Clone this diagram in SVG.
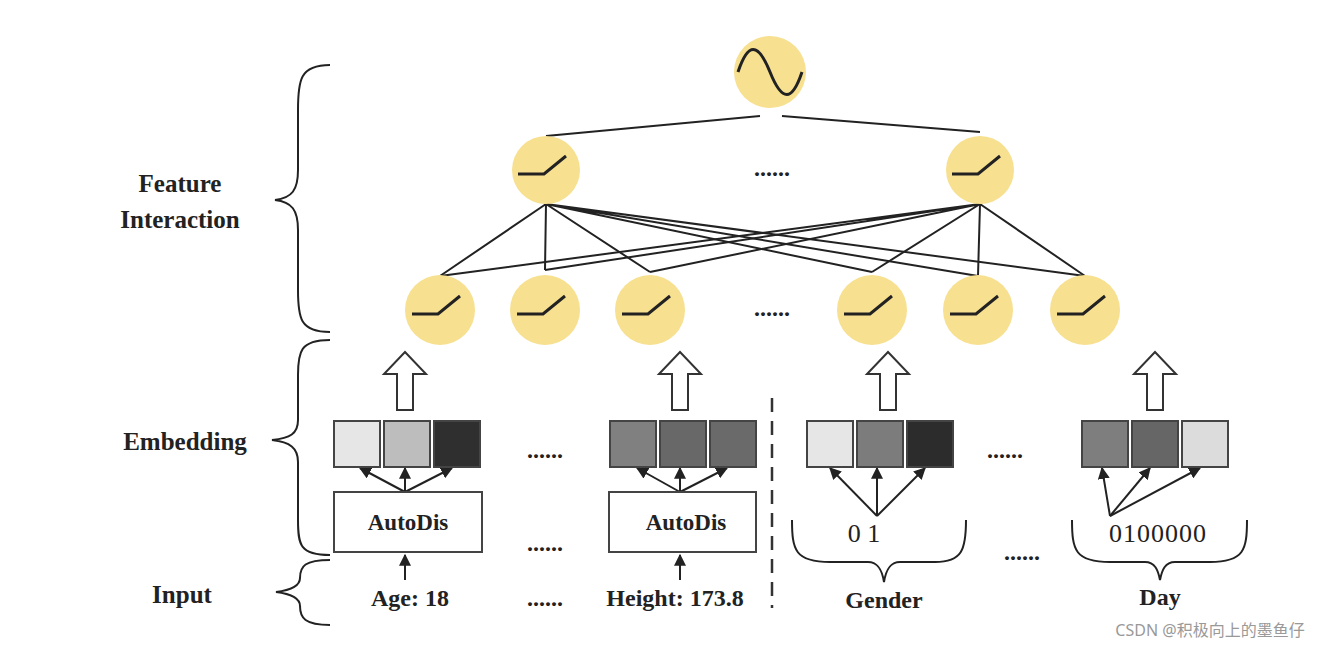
<svg xmlns="http://www.w3.org/2000/svg" width="1342" height="646" viewBox="0 0 1342 646">
<style>
.n{fill:#f7e08f;stroke:none}
.ic{fill:none;stroke:#222;stroke-width:3}
.ln{stroke:#222;stroke-width:2;fill:none}
.t{font-family:"Liberation Serif",serif;font-weight:bold;fill:#222}
.cell{stroke:#444;stroke-width:2}
.box{fill:#fff;stroke:#444;stroke-width:2}
.ha{fill:#fff;stroke:#333;stroke-width:2}
.dots{font-family:"Liberation Serif",serif;font-weight:bold;font-size:24px;fill:#222;text-anchor:middle}
</style>
<defs>
<marker id="ah" viewBox="0 0 10 10" refX="9" refY="5" markerWidth="6" markerHeight="6" orient="auto"><path d="M0,0L10,5L0,10z" fill="#222"/></marker>
<g id="relu"><path class="ic" d="M-28,4H-2L20,-14"/></g>
<path id="hol" d="M-8,0V-36H-21L0,-58L21,-36H8V0Z"/>
</defs>
<g id="connectors">
<path class="ln" d="M546,136L760,116M980,132L782,116"/>
<path class="ln" d="M546,204L440,276M546,204L545,270M546,204L650,272M546,204L872,272M546,204L978,276M546,204L1085,276"/>
<path class="ln" d="M980,204L440,276M980,204L545,270M980,204L650,272M980,204L872,272M980,204L978,276M980,204L1085,276"/>
<g class="ln" stroke-width="1.6" marker-end="url(#ah)">
<line x1="405" y1="492" x2="360" y2="468"/><line x1="405" y1="492" x2="405" y2="468"/><line x1="405" y1="492" x2="452" y2="468"/>
<line x1="680" y1="492" x2="637" y2="468"/><line x1="680" y1="492" x2="680" y2="468"/><line x1="680" y1="492" x2="727" y2="468"/>
<line x1="877" y1="516" x2="830" y2="468"/><line x1="877" y1="516" x2="877" y2="468"/><line x1="877" y1="516" x2="925" y2="468"/>
<line x1="1110" y1="516" x2="1102" y2="468"/><line x1="1110" y1="516" x2="1150" y2="468"/><line x1="1110" y1="516" x2="1200" y2="468"/>
<line x1="405" y1="580" x2="405" y2="555"/><line x1="680" y1="580" x2="680" y2="555"/>
</g>
<line x1="772" y1="398" x2="772" y2="608" stroke="#333" stroke-width="2.5" stroke-dasharray="14,9"/>
</g>
<g id="out"><circle class="n" cx="770" cy="72" r="36"/><path class="ic" d="M738,72C748,42 758,42 770,72S792,102 802,72"/></g>
<g id="h2a"><circle class="n" cx="546" cy="170" r="34"/><use href="#relu" x="546" y="170"/></g>
<g id="h2b"><circle class="n" cx="980" cy="170" r="34"/><use href="#relu" x="980" y="170"/></g>
<g id="h1">
<circle class="n" cx="440" cy="310" r="35"/><use href="#relu" x="440" y="310"/>
<circle class="n" cx="545" cy="310" r="35"/><use href="#relu" x="545" y="310"/>
<circle class="n" cx="650" cy="310" r="35"/><use href="#relu" x="650" y="310"/>
<circle class="n" cx="872" cy="310" r="35"/><use href="#relu" x="872" y="310"/>
<circle class="n" cx="978" cy="310" r="35"/><use href="#relu" x="978" y="310"/>
<circle class="n" cx="1085" cy="310" r="35"/><use href="#relu" x="1085" y="310"/>
</g>
<text class="dots" x="772" y="176">......</text>
<text class="dots" x="772" y="316">......</text>
<g id="arrows">
<use href="#hol" class="ha" x="405" y="410"/><use href="#hol" class="ha" x="680" y="410"/>
<use href="#hol" class="ha" x="888" y="410"/><use href="#hol" class="ha" x="1155" y="410"/>
</g>
<g id="emb">
<rect class="cell" x="334" y="421" width="46" height="46" fill="#e6e6e6"/><rect class="cell" x="384" y="421" width="46" height="46" fill="#bdbdbd"/><rect class="cell" x="434" y="421" width="46" height="46" fill="#2f2f2f"/>
<rect class="cell" x="610" y="421" width="46" height="46" fill="#808080"/><rect class="cell" x="660" y="421" width="46" height="46" fill="#686868"/><rect class="cell" x="710" y="421" width="46" height="46" fill="#6a6a6a"/>
<rect class="cell" x="807" y="421" width="46" height="46" fill="#e6e6e6"/><rect class="cell" x="857" y="421" width="46" height="46" fill="#7c7c7c"/><rect class="cell" x="907" y="421" width="46" height="46" fill="#2c2c2c"/>
<rect class="cell" x="1082" y="421" width="46" height="46" fill="#7e7e7e"/><rect class="cell" x="1132" y="421" width="46" height="46" fill="#666"/><rect class="cell" x="1182" y="421" width="46" height="46" fill="#dcdcdc"/>
<text class="dots" x="545" y="458">......</text><text class="dots" x="1005" y="458">......</text>
</g>
<g id="autodis1"><rect class="box" x="334" y="492" width="148" height="60"/><text class="t" x="408" y="530" font-size="23" text-anchor="middle">AutoDis</text></g>
<g id="autodis2"><rect class="box" x="609" y="492" width="147" height="60"/><text class="t" x="686" y="530" font-size="23" text-anchor="middle">AutoDis</text></g>
<text class="dots" x="545" y="551">......</text>
<g id="inputs" class="t" font-size="24">
<text x="410" y="606" text-anchor="middle">Age: 18</text>
<text x="545" y="606" text-anchor="middle">......</text>
<text x="675" y="606" text-anchor="middle">Height: 173.8</text>
<text x="864" y="542" font-weight="normal" text-anchor="middle" font-size="26">0 1</text>
<text x="1158" y="542" font-weight="normal" text-anchor="middle" font-size="26" letter-spacing="1">0100000</text>
<text x="884" y="608" text-anchor="middle">Gender</text>
<text x="1160" y="605" text-anchor="middle">Day</text>
<text x="1022" y="560" text-anchor="middle">......</text>
</g>
<g id="braces" class="ln">
<path d="M792,520C792,550 795,562 830,562H868C878,562 882,570 884,582C886,570 890,562 900,562H935C962,562 966,550 966,520"/>
<path d="M1072,520C1072,550 1075,562 1110,562H1145C1155,562 1158,570 1160,580C1162,570 1165,562 1175,562H1210C1244,562 1247,550 1247,520"/>
<path d="M330,65C300,65 298,80 298,110V170C298,190 292,198 275,200C292,202 298,210 298,230V290C298,318 300,332 330,332"/>
<path d="M330,340C300,340 298,352 298,375V420C298,434 290,438 272,440C290,442 298,448 298,462V520C298,545 300,555 330,555"/>
<path d="M330,560C305,560 300,566 300,578C300,586 292,590 276,592C292,594 300,598 300,606C300,618 305,625 330,625"/>
</g>
<g class="t" font-size="25" text-anchor="middle">
<text x="180" y="192">Feature</text>
<text x="180" y="228">Interaction</text>
<text x="185" y="450">Embedding</text>
<text x="182" y="603">Input</text>
</g>
<text x="1210" y="636" font-family="'Noto Sans','Noto Sans CJK SC',sans-serif" font-size="16" fill="#999" text-anchor="middle">CSDN @积极向上的墨鱼仔</text>
</svg>
